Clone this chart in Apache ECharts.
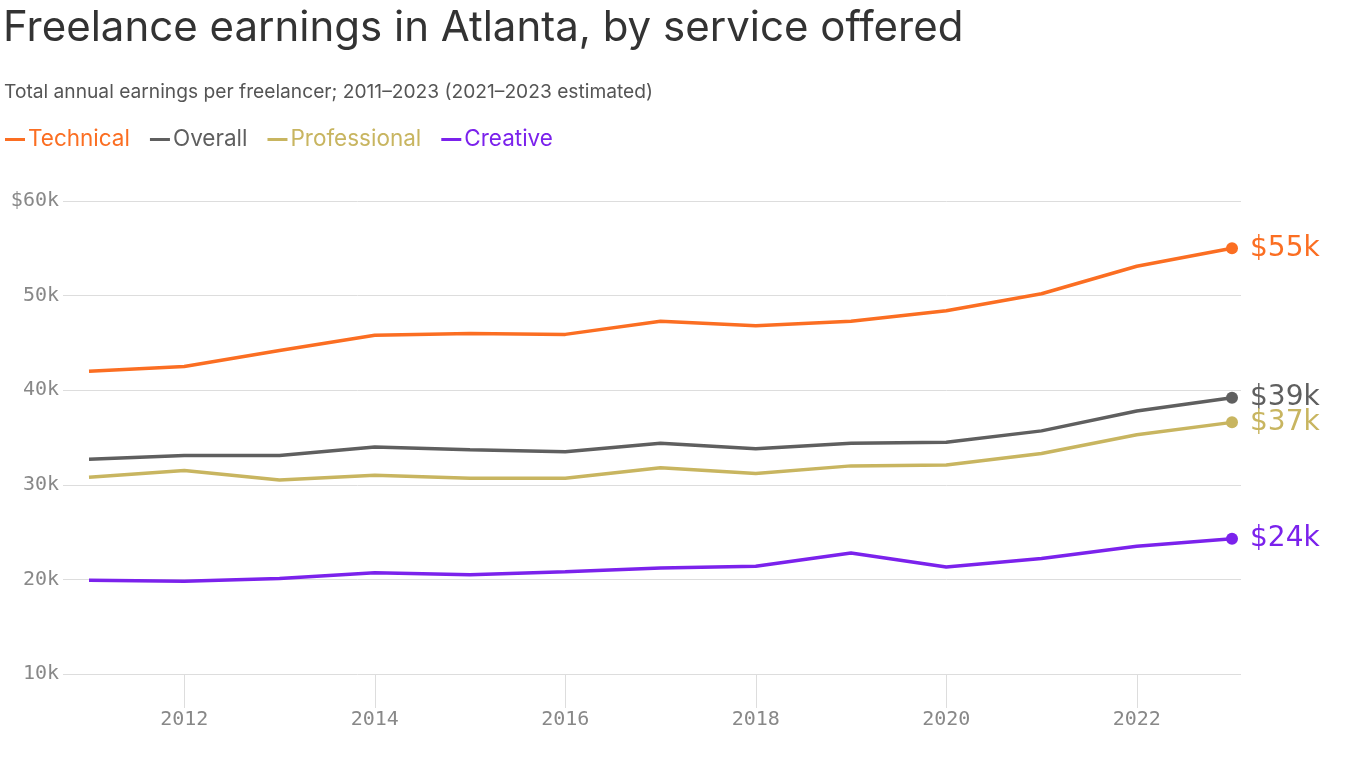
<!DOCTYPE html>
<html>
<head>
<meta charset="utf-8">
<script src="https://cdn.jsdelivr.net/npm/echarts@6/dist/echarts.min.js"></script>
<style>
  html, body { margin: 0; padding: 0; background: #fff; }
  #chart { width: 1366px; height: 768px; }
</style>
</head>
<body>
<div id="chart"></div>
<script>
// years on the x axis
const years = ['2011', '2012', '2013', '2014', '2015', '2016', '2017', '2018', '2019', '2020', '2021', '2022', '2023'];

// annual earnings per freelancer, in thousands of dollars
const technical = [42.0, 42.5, 44.2, 45.8, 46.0, 45.9, 47.3, 46.8, 47.3, 48.4, 50.2, 53.1, 55.0];
const overall = [32.7, 33.1, 33.1, 34.0, 33.7, 33.5, 34.4, 33.8, 34.4, 34.5, 35.7, 37.8, 39.2];
const professional = [30.8, 31.5, 30.5, 31.0, 30.7, 30.7, 31.8, 31.2, 32.0, 32.1, 33.3, 35.3, 36.6];
const creative = [19.9, 19.8, 20.1, 20.7, 20.5, 20.8, 21.2, 21.4, 22.8, 21.3, 22.2, 23.5, 24.3];

const yTicks = [10, 20, 30, 40, 50, 60];

const chart = echarts.init(document.getElementById('chart'));

const evenYear = (idx, val) => Number(val) % 2 === 0;

function makeSeries(name, values, color) {
    const last = values.length - 1;
    return {
        name: name,
        type: 'line',
        xAxisIndex: 1,
        yAxisIndex: 1,
        data: values,
        showSymbol: true,
        symbol: 'circle',
        symbolSize: (val, params) => params.dataIndex === last ? 12 : 0,
        itemStyle: { color: color },
        lineStyle: { color: color, width: 3.5 },
        emphasis: { disabled: true },
        endLabel: {
            show: true,
            distance: 18,
            color: color,
            fontFamily: 'DejaVu Sans',
            fontSize: 28,
            formatter: p => '$' + Math.round(p.value) + 'k'
        },
        z: 3
    };
}

chart.setOption({
    animation: false,
    title: [
        {
            text: 'Freelance earnings in Atlanta, by service offered',
            left: -2,
            top: 2,
            textStyle: { fontFamily: 'Inter', fontWeight: 'normal', fontSize: 42, color: '#333' }
        },
        {
            text: 'Total annual earnings per freelancer; 2011–2023 (2021–2023 estimated)',
            left: -1,
            top: 78,
            textStyle: { fontFamily: 'Inter', fontWeight: 'normal', fontSize: 19.2, color: '#555' }
        }
    ],
    legend: {
        left: 0,
        top: 123,
        icon: 'rect',
        itemWidth: 20,
        itemHeight: 3,
        itemGap: 20,
        selectedMode: false,
        textStyle: { fontFamily: 'Inter', fontSize: 22.5, padding: [0, 0, 0, -2] },
        data: [
            { name: 'Technical', textStyle: { color: '#fb6e22' } },
            { name: 'Overall', textStyle: { color: '#5f5f5f' } },
            { name: 'Professional', textStyle: { color: '#c8b560' } },
            { name: 'Creative', textStyle: { color: '#7b22ec' } }
        ]
    },
    grid: [
        // wide grid: gridlines and y labels
        { left: 63, right: 125, top: 201, bottom: 94 },
        // data grid: 2011 to 2023
        { left: 89, right: 134, top: 201, bottom: 94 },
        // strip under the plot for the year ticks and labels
        { left: 89, right: 134, top: 674, bottom: 60 }
    ],
    xAxis: [
        {
            gridIndex: 0,
            type: 'value',
            min: 0,
            max: 1,
            show: false
        },
        {
            gridIndex: 1,
            type: 'category',
            data: years,
            boundaryGap: false,
            show: false
        },
        {
            gridIndex: 2,
            type: 'category',
            data: years,
            boundaryGap: false,
            axisLine: { show: false },
            axisTick: { show: false },
            splitLine: {
                show: true,
                interval: evenYear,
                lineStyle: { color: '#ddd', width: 1 }
            },
            axisLabel: {
                interval: evenYear,
                margin: 2,
                fontFamily: 'DejaVu Sans Mono',
                fontSize: 20,
                color: '#888'
            }
        }
    ],
    yAxis: [
        {
            gridIndex: 0,
            type: 'value',
            min: 10,
            max: 60,
            interval: 10,
            axisLine: { show: false },
            axisTick: { show: false },
            splitLine: { lineStyle: { color: '#ddd', width: 1 } },
            axisLabel: {
                margin: 4,
                fontFamily: 'DejaVu Sans Mono',
                fontSize: 20,
                color: '#888',
                formatter: v => v === yTicks[yTicks.length - 1] ? '$' + v + 'k' : v + 'k'
            }
        },
        {
            gridIndex: 1,
            type: 'value',
            min: 10,
            max: 60,
            interval: 10,
            show: false
        },
        {
            gridIndex: 2,
            type: 'value',
            min: 0,
            max: 1,
            show: false
        }
    ],
    series: [
        makeSeries('Technical', technical, '#fb6e22'),
        makeSeries('Overall', overall, '#5f5f5f'),
        makeSeries('Professional', professional, '#c8b560'),
        makeSeries('Creative', creative, '#7b22ec')
    ]
});
</script>
</body>
</html>
